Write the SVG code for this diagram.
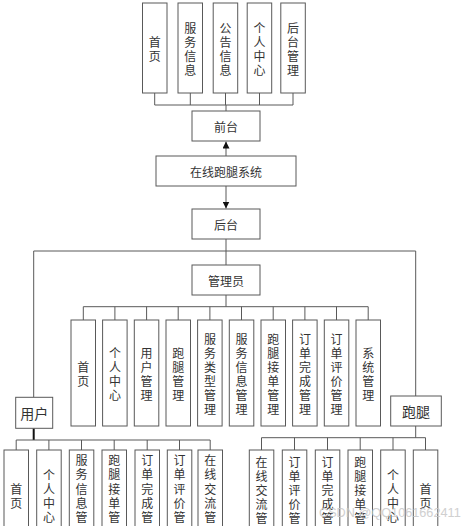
<svg xmlns="http://www.w3.org/2000/svg" width="474" height="526" viewBox="0 0 474 526">
<defs>
<style>
.b{fill:#fff;stroke:#595959;stroke-width:1}
.l{fill:none;stroke:#595959;stroke-width:1}
.t{font-family:"Noto Sans CJK SC","Noto Sans",sans-serif;font-size:12px;fill:#333;text-anchor:middle;dominant-baseline:central}
.tb{font-size:14px}
.wm{font-family:"Liberation Sans",Arial,sans-serif;font-size:12.7px;fill:#c8c8c8;opacity:0.85}
</style>
<marker id="ar" viewBox="0 0 10 10" refX="10" refY="5" markerWidth="7" markerHeight="7" orient="auto" markerUnits="userSpaceOnUse">
<path d="M0,0 L10,5 L0,10 z" fill="#111"/>
</marker>
</defs>
<rect width="474" height="526" fill="#fff"/>
<g id="connectors">
<path class="l" d="M154.7,93V105M190.3,93V105M225.5,93V105M259.5,93V105M293,93V105M154.7,105H293M226,105V111"/>
<line class="l" x1="226" y1="156" x2="226" y2="141.5" stroke="#111" marker-end="url(#ar)"/>
<line class="l" x1="226" y1="186" x2="226" y2="208.5" stroke="#111" marker-end="url(#ar)"/>
<path class="l" d="M226,239V265M33.7,251H415.7M33.7,251V397.3M415.7,251V396"/>
<path class="l" d="M226,295V306.7M83.3,306.7H368.2M83.3,306.7V320M114.9,306.7V320M146.6,306.7V320M178.2,306.7V320M209.9,306.7V320M241.5,306.7V320M273.2,306.7V320M304.9,306.7V320M336.5,306.7V320M368.2,306.7V320"/>
<line x1="33.7" y1="428.3" x2="33.7" y2="440" stroke="#111" stroke-width="2"/>
<path class="l" d="M16.2,440H210.2M16.2,440V450M48.9,440V450M81.5,440V450M114.2,440V450M147.2,440V450M179.5,440V450M210.2,440V450"/>
<path class="l" d="M415.7,426V437.7M261.5,437.7H425.5M261.5,437.7V450M294.5,437.7V450M327.5,437.7V450M360.2,437.7V450M393,437.7V450M425.5,437.7V450"/>
</g>
<g id="top1"><rect class="b" x="142.5" y="3" width="24.5" height="90"/><text class="t"><tspan x="154.7" y="41">首</tspan><tspan x="154.7" y="55">页</tspan></text></g>
<g id="top2"><rect class="b" x="178" y="3" width="24.5" height="90"/><text class="t"><tspan x="190.3" y="27">服</tspan><tspan x="190.3" y="41">务</tspan><tspan x="190.3" y="55">信</tspan><tspan x="190.3" y="69">息</tspan></text></g>
<g id="top3"><rect class="b" x="213.2" y="3" width="24.5" height="90"/><text class="t"><tspan x="225.5" y="27">公</tspan><tspan x="225.5" y="41">告</tspan><tspan x="225.5" y="55">信</tspan><tspan x="225.5" y="69">息</tspan></text></g>
<g id="top4"><rect class="b" x="247.2" y="3" width="24.5" height="90"/><text class="t"><tspan x="259.5" y="27">个</tspan><tspan x="259.5" y="41">人</tspan><tspan x="259.5" y="55">中</tspan><tspan x="259.5" y="69">心</tspan></text></g>
<g id="top5"><rect class="b" x="280.8" y="3" width="24.5" height="90"/><text class="t"><tspan x="293" y="27">后</tspan><tspan x="293" y="41">台</tspan><tspan x="293" y="55">管</tspan><tspan x="293" y="69">理</tspan></text></g>
<g id="qiantai"><rect class="b" x="192" y="111" width="68" height="30"/><text class="t" x="226" y="126">前台</text></g>
<g id="system"><rect class="b" x="156" y="156" width="140" height="30"/><text class="t" x="226" y="171">在线跑腿系统</text></g>
<g id="houtai"><rect class="b" x="192" y="209" width="68" height="30"/><text class="t" x="226" y="224">后台</text></g>
<g id="admin"><rect class="b" x="192" y="265" width="68" height="30"/><text class="t" x="226" y="280">管理员</text></g>
<g id="a1"><rect class="b" x="71" y="320" width="24.5" height="106"/><text class="t"><tspan x="83.3" y="366">首</tspan><tspan x="83.3" y="380">页</tspan></text></g>
<g id="a2"><rect class="b" x="102.6" y="320" width="24.5" height="106"/><text class="t"><tspan x="114.9" y="352">个</tspan><tspan x="114.9" y="366">人</tspan><tspan x="114.9" y="380">中</tspan><tspan x="114.9" y="394">心</tspan></text></g>
<g id="a3"><rect class="b" x="134.3" y="320" width="24.5" height="106"/><text class="t"><tspan x="146.6" y="352">用</tspan><tspan x="146.6" y="366">户</tspan><tspan x="146.6" y="380">管</tspan><tspan x="146.6" y="394">理</tspan></text></g>
<g id="a4"><rect class="b" x="166" y="320" width="24.5" height="106"/><text class="t"><tspan x="178.2" y="352">跑</tspan><tspan x="178.2" y="366">腿</tspan><tspan x="178.2" y="380">管</tspan><tspan x="178.2" y="394">理</tspan></text></g>
<g id="a5"><rect class="b" x="197.6" y="320" width="24.5" height="106"/><text class="t"><tspan x="209.9" y="338">服</tspan><tspan x="209.9" y="352">务</tspan><tspan x="209.9" y="366">类</tspan><tspan x="209.9" y="380">型</tspan><tspan x="209.9" y="394">管</tspan><tspan x="209.9" y="408">理</tspan></text></g>
<g id="a6"><rect class="b" x="229.3" y="320" width="24.5" height="106"/><text class="t"><tspan x="241.5" y="338">服</tspan><tspan x="241.5" y="352">务</tspan><tspan x="241.5" y="366">信</tspan><tspan x="241.5" y="380">息</tspan><tspan x="241.5" y="394">管</tspan><tspan x="241.5" y="408">理</tspan></text></g>
<g id="a7"><rect class="b" x="261" y="320" width="24.5" height="106"/><text class="t"><tspan x="273.2" y="338">跑</tspan><tspan x="273.2" y="352">腿</tspan><tspan x="273.2" y="366">接</tspan><tspan x="273.2" y="380">单</tspan><tspan x="273.2" y="394">管</tspan><tspan x="273.2" y="408">理</tspan></text></g>
<g id="a8"><rect class="b" x="292.6" y="320" width="24.5" height="106"/><text class="t"><tspan x="304.9" y="338">订</tspan><tspan x="304.9" y="352">单</tspan><tspan x="304.9" y="366">完</tspan><tspan x="304.9" y="380">成</tspan><tspan x="304.9" y="394">管</tspan><tspan x="304.9" y="408">理</tspan></text></g>
<g id="a9"><rect class="b" x="324.3" y="320" width="24.5" height="106"/><text class="t"><tspan x="336.5" y="338">订</tspan><tspan x="336.5" y="352">单</tspan><tspan x="336.5" y="366">评</tspan><tspan x="336.5" y="380">价</tspan><tspan x="336.5" y="394">管</tspan><tspan x="336.5" y="408">理</tspan></text></g>
<g id="a10"><rect class="b" x="356" y="320" width="24.5" height="106"/><text class="t"><tspan x="368.2" y="352">系</tspan><tspan x="368.2" y="366">统</tspan><tspan x="368.2" y="380">管</tspan><tspan x="368.2" y="394">理</tspan></text></g>
<g id="user"><rect class="b" x="15.7" y="397.3" width="37" height="31"/><text class="t tb" x="34.2" y="412.8">用户</text></g>
<g id="runner"><rect class="b" x="390.7" y="396" width="50.6" height="30"/><text class="t tb" x="416" y="411">跑腿</text></g>
<g id="u1"><rect class="b" x="4" y="450" width="24.5" height="90"/><text class="t"><tspan x="16.2" y="487.5">首</tspan><tspan x="16.2" y="501.5">页</tspan></text></g>
<g id="u2"><rect class="b" x="36.7" y="450" width="24.5" height="90"/><text class="t"><tspan x="48.9" y="473.5">个</tspan><tspan x="48.9" y="487.5">人</tspan><tspan x="48.9" y="501.5">中</tspan><tspan x="48.9" y="515.5">心</tspan></text></g>
<g id="u3"><rect class="b" x="69.3" y="450" width="24.5" height="90"/><text class="t"><tspan x="81.5" y="459">服</tspan><tspan x="81.5" y="473.3">务</tspan><tspan x="81.5" y="487.6">信</tspan><tspan x="81.5" y="501.9">息</tspan><tspan x="81.5" y="516.2">管</tspan></text></g>
<g id="u4"><rect class="b" x="102" y="450" width="24.5" height="90"/><text class="t"><tspan x="114.2" y="459">跑</tspan><tspan x="114.2" y="473.3">腿</tspan><tspan x="114.2" y="487.6">接</tspan><tspan x="114.2" y="501.9">单</tspan><tspan x="114.2" y="516.2">管</tspan></text></g>
<g id="u5"><rect class="b" x="135" y="450" width="24.5" height="90"/><text class="t"><tspan x="147.2" y="459">订</tspan><tspan x="147.2" y="473.3">单</tspan><tspan x="147.2" y="487.6">完</tspan><tspan x="147.2" y="501.9">成</tspan><tspan x="147.2" y="516.2">管</tspan></text></g>
<g id="u6"><rect class="b" x="167.3" y="450" width="24.5" height="90"/><text class="t"><tspan x="179.5" y="459">订</tspan><tspan x="179.5" y="473.3">单</tspan><tspan x="179.5" y="487.6">评</tspan><tspan x="179.5" y="501.9">价</tspan><tspan x="179.5" y="516.2">管</tspan></text></g>
<g id="u7"><rect class="b" x="198" y="450" width="24.5" height="90"/><text class="t"><tspan x="210.2" y="459">在</tspan><tspan x="210.2" y="473.3">线</tspan><tspan x="210.2" y="487.6">交</tspan><tspan x="210.2" y="501.9">流</tspan><tspan x="210.2" y="516.2">管</tspan></text></g>
<g id="r1"><rect class="b" x="249.3" y="450" width="24.5" height="90"/><text class="t"><tspan x="261.5" y="461">在</tspan><tspan x="261.5" y="475">线</tspan><tspan x="261.5" y="489">交</tspan><tspan x="261.5" y="503">流</tspan><tspan x="261.5" y="517">管</tspan></text></g>
<g id="r2"><rect class="b" x="282.3" y="450" width="24.5" height="90"/><text class="t"><tspan x="294.5" y="461">订</tspan><tspan x="294.5" y="475">单</tspan><tspan x="294.5" y="489">评</tspan><tspan x="294.5" y="503">价</tspan><tspan x="294.5" y="517">管</tspan></text></g>
<g id="r3"><rect class="b" x="315.3" y="450" width="24.5" height="90"/><text class="t"><tspan x="327.5" y="461">订</tspan><tspan x="327.5" y="475">单</tspan><tspan x="327.5" y="489">完</tspan><tspan x="327.5" y="503">成</tspan><tspan x="327.5" y="517">管</tspan></text></g>
<g id="r4"><rect class="b" x="348" y="450" width="24.5" height="90"/><text class="t"><tspan x="360.2" y="461">跑</tspan><tspan x="360.2" y="475">腿</tspan><tspan x="360.2" y="489">接</tspan><tspan x="360.2" y="503">单</tspan><tspan x="360.2" y="517">管</tspan></text></g>
<g id="r5"><rect class="b" x="380.7" y="450" width="24.5" height="90"/><text class="t"><tspan x="393" y="474">个</tspan><tspan x="393" y="488">人</tspan><tspan x="393" y="502">中</tspan><tspan x="393" y="516">心</tspan></text></g>
<g id="r6"><rect class="b" x="413.3" y="450" width="24.5" height="90"/><text class="t"><tspan x="425.5" y="488">首</tspan><tspan x="425.5" y="502">页</tspan></text></g>
<text class="wm" x="319" y="517">CSDN @QQ1061662411</text>
</svg>
